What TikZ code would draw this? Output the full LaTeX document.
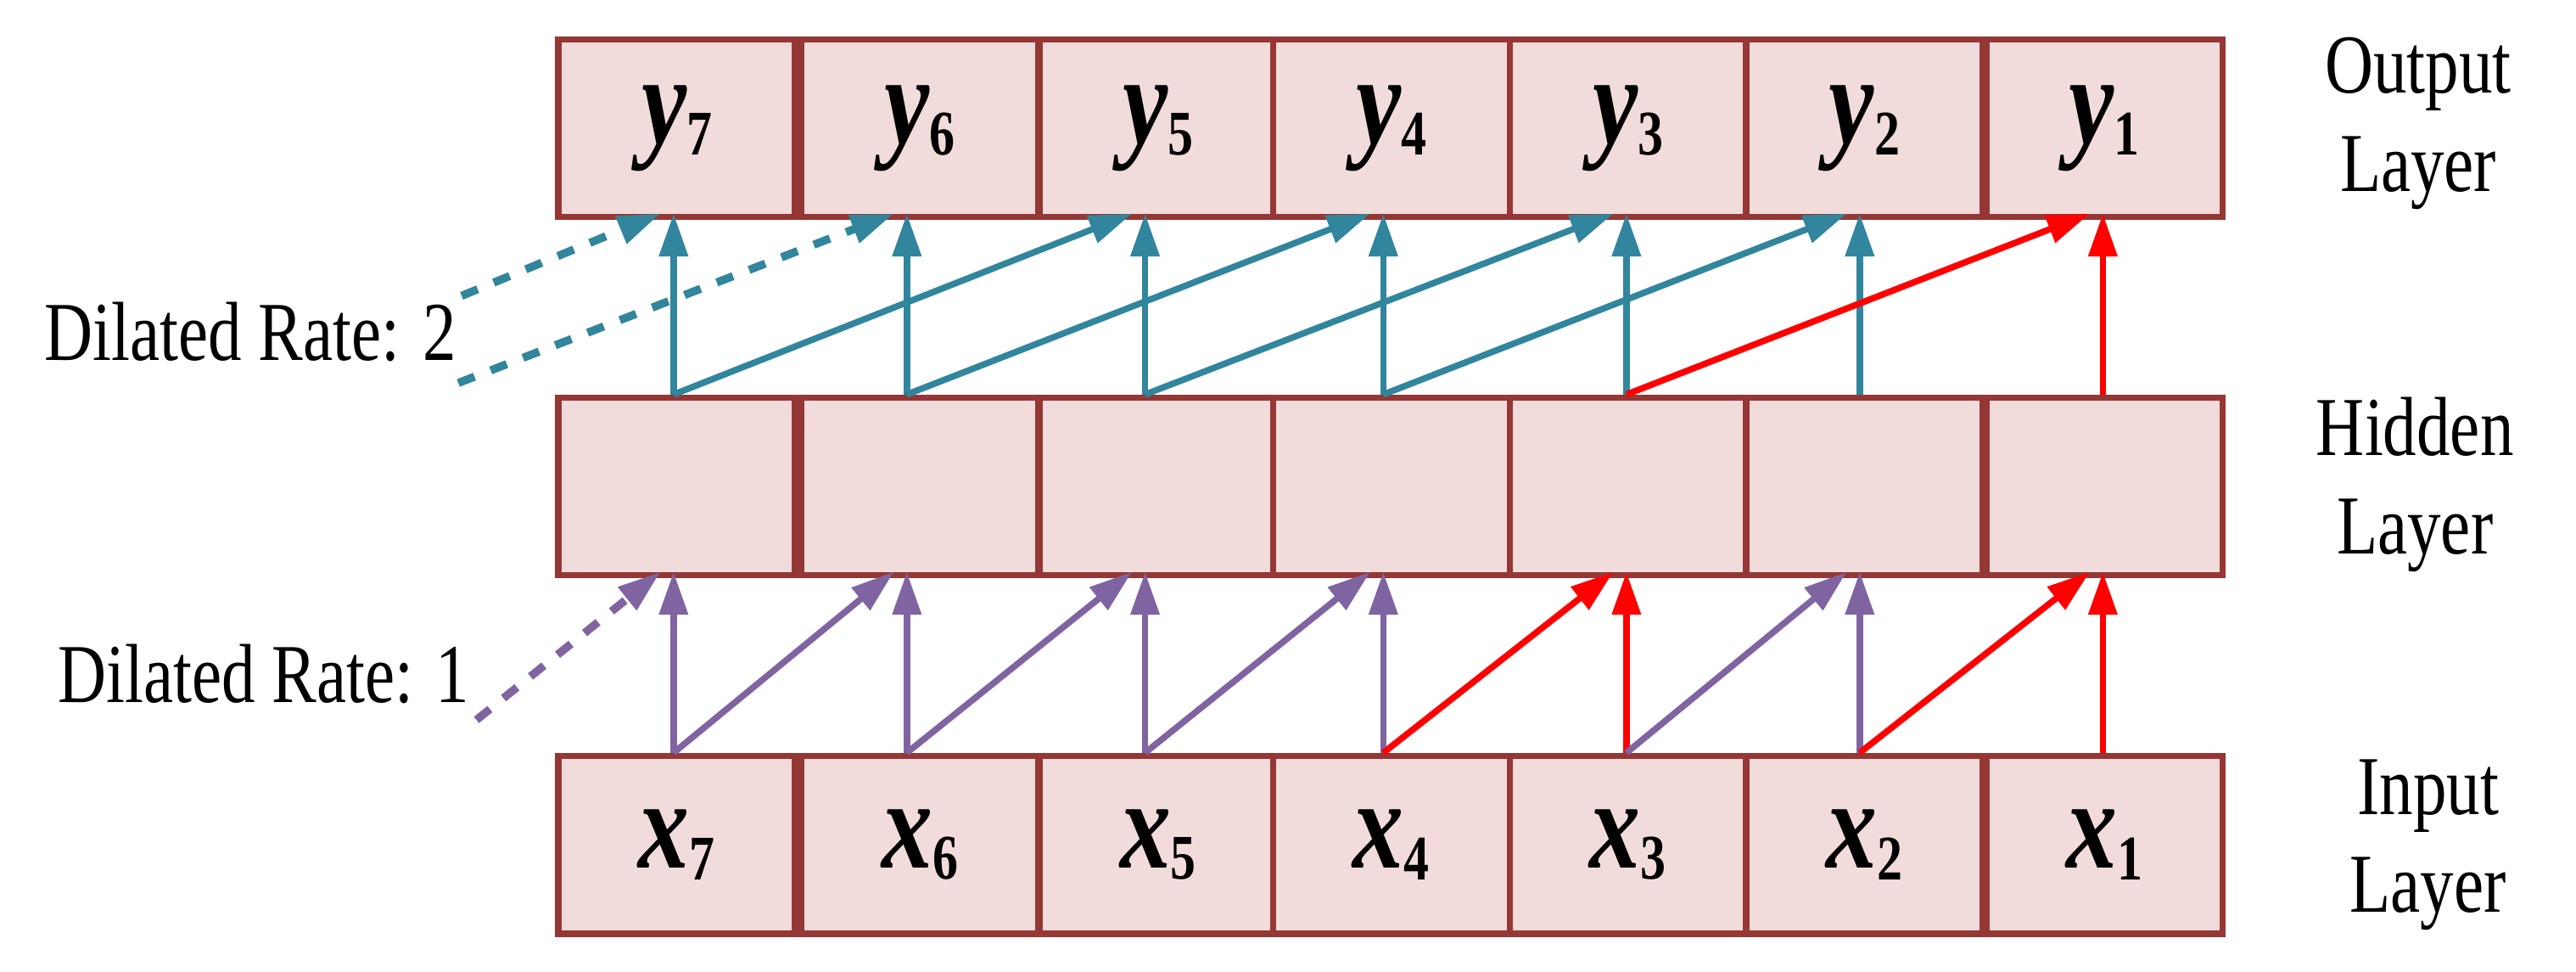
\documentclass[tikz,border=0pt]{standalone}
\usepackage{fontspec}
\setmainfont{Liberation Serif}[FakeStretch=0.8]
\usetikzlibrary{arrows.meta}
\definecolor{cellfill}{HTML}{F2DCDB}
\definecolor{cellline}{HTML}{953735}
\definecolor{teal2}{HTML}{31859C}
\definecolor{purp}{HTML}{8064A2}
\tikzset{
 cell/.style={draw=cellline,fill=cellfill,line width=1.1pt,minimum width=1.44cm,minimum height=1.08cm,inner sep=0pt,anchor=north west,font=\fontsize{22}{22}\selectfont\bfseries\itshape},
 conn/.style={line width=1.1pt,-{Triangle[length=0.26cm,width=0.17cm]}},
 lbl/.style={font=\fontsize{14.5}{17}\selectfont,align=center}
}
\newcommand{\subi}[1]{\raisebox{-2pt}{\fontsize{11}{11}\selectfont\upshape\bfseries #1}}
\begin{document}
\begin{tikzpicture}[x=0.01cm,y=-0.01cm]
\useasboundingbox (0,0) rectangle (1568,591);
\foreach \i/\x in {7/338,6/486,5/631,4/773,3/917,2/1061,1/1207}{
 \node[cell] (y\i) at (\x,22) {y\subi{\i}};
 \node[cell] (h\i) at (\x,240) {};
 \node[cell] (x\i) at (\x,458) {x\subi{\i}};
}
\foreach \i/\x in {7/410,6/552,5/697,4/842,3/990,2/1132,1/1280}{
 \coordinate (ht\i) at (\x,240);
 \coordinate (hb\i) at (\x,348);
 \coordinate (ob\i) at (\x,130);
 \coordinate (it\i) at (\x,458);
}
% top layer
\foreach \i in {7,6,5,4,2}{\draw[conn,teal2] (ht\i) -- (ob\i);}
\draw[conn,teal2] (ht3) -- (ob3);
\draw[conn,red] (ht1) -- (ob1);
\draw[conn,teal2] (ht7) -- ([xshift=-0.08cm]ob5);
\draw[conn,teal2] (ht6) -- ([xshift=-0.08cm]ob4);
\draw[conn,teal2] (ht5) -- ([xshift=-0.08cm]ob3);
\draw[conn,teal2] (ht4) -- ([xshift=-0.08cm]ob2);
\draw[conn,red] (ht3) -- ([xshift=-0.08cm]ob1);
\coordinate (d2a) at (281,180);
\coordinate (d2b) at (279,233);
\draw[conn,teal2,dashed,line width=1.4pt] (d2a) -- ([xshift=-0.08cm]ob7);
\draw[conn,teal2,dashed,line width=1.4pt] (d2b) -- ([xshift=-0.08cm]ob6);
% bottom layer
\foreach \i in {7,6,5,4,2}{\draw[conn,purp] (it\i) -- (hb\i);}
\draw[conn,red] (it3) -- (hb3);
\draw[conn,red] (it1) -- (hb1);
\draw[conn,purp] (it7) -- ([xshift=-0.08cm]hb6);
\draw[conn,purp] (it6) -- ([xshift=-0.08cm]hb5);
\draw[conn,purp] (it5) -- ([xshift=-0.08cm]hb4);
\draw[conn,red] (it4) -- ([xshift=-0.08cm]hb3);
\draw[conn,purp] (it3) -- ([xshift=-0.08cm]hb2);
\draw[conn,red] (it2) -- ([xshift=-0.08cm]hb1);
\coordinate (d1) at (290,438);
\draw[conn,purp,dashed,line width=1.4pt] (d1) -- ([xshift=-0.08cm]hb7);
% labels
\node[lbl,anchor=east] (r2) at (290,202) {Dilated Rate: 2};
\node[lbl,anchor=east] (r1) at (298,410) {Dilated Rate: 1};
\node[lbl] (ol) at (1472,75) {Output\\Layer};
\node[lbl] (hl) at (1470,295) {Hidden\\Layer};
\node[lbl] (il) at (1478,514) {Input\\Layer};
\end{tikzpicture}
\end{document}
